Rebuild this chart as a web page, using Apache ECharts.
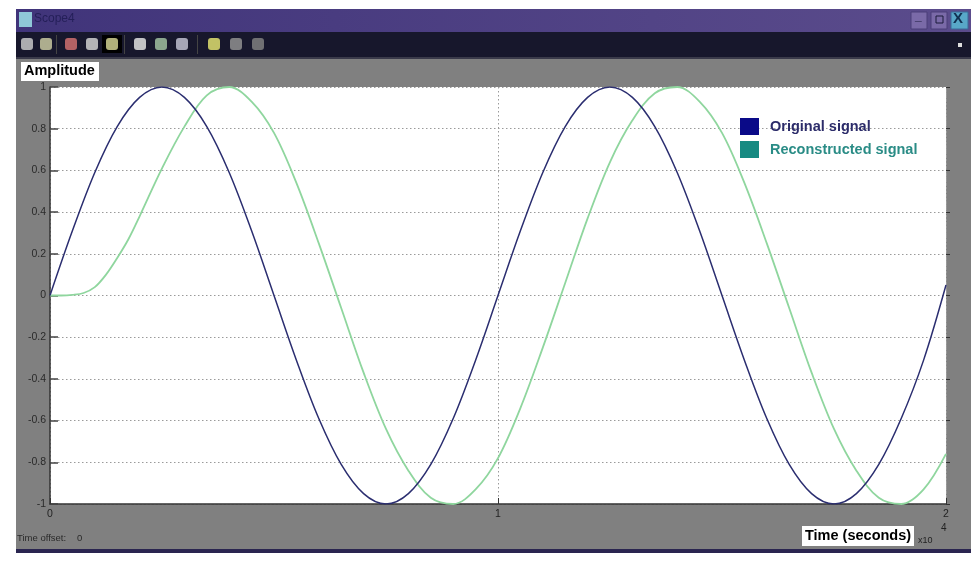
<!DOCTYPE html>
<html>
<head>
<meta charset="utf-8">
<script src="https://cdn.jsdelivr.net/npm/echarts@6/dist/echarts.min.js"></script>
<style>
html,body{margin:0;padding:0;background:#fff;}
#c{width:978px;height:565px;}
</style>
</head>
<body>
<div id="c"></div>
<script>
// Time in units of 1e-4 s
var times = [0,0.05,0.1,0.15,0.2,0.25,0.3,0.35,0.4,0.45,0.5,0.55,0.6,0.65,0.7,0.75,0.8,0.85,0.9,0.95,
             1.0,1.05,1.1,1.15,1.2,1.25,1.3,1.35,1.4,1.45,1.5,1.55,1.6,1.65,1.7,1.75,1.8,1.85,1.9,1.95,2.0];
var originalSignal = [0,0.31,0.59,0.81,0.95,1.0,0.95,0.81,0.59,0.31,0.0,-0.31,-0.59,-0.81,-0.95,-1.0,-0.95,-0.81,-0.59,-0.31,
                      0.0,0.31,0.59,0.81,0.95,1.0,0.95,0.81,0.59,0.31,0.0,-0.31,-0.59,-0.81,-0.95,-1.0,-0.95,-0.81,-0.59,-0.31,0.05];
var reconTimes = [0,0.025,0.05,0.075,0.1,0.125,0.15,0.175,0.2,0.25,0.3,0.35,0.4,0.45,0.5,0.55,0.6,0.65,0.7,0.75,0.8,0.85,0.9,0.95,
                  1.0,1.05,1.1,1.15,1.2,1.25,1.3,1.35,1.4,1.45,1.5,1.55,1.6,1.65,1.7,1.75,1.8,1.85,1.9,1.95,2.0];
var reconstructedSignal = [0,0,0.003,0.012,0.04,0.1,0.18,0.27,0.38,0.61,0.81,0.96,1.0,0.93,0.78,0.54,0.25,-0.06,-0.37,-0.64,-0.84,-0.97,-1.0,-0.93,
                           -0.78,-0.54,-0.25,0.06,0.37,0.64,0.84,0.97,1.0,0.93,0.78,0.54,0.25,-0.06,-0.37,-0.64,-0.84,-0.97,-1.0,-0.93,-0.76];
var xTicks = [0,1,2];
var yTicks = [-1,-0.8,-0.6,-0.4,-0.2,0,0.2,0.4,0.6,0.8,1];
var seriesNames = ['Original signal','Reconstructed signal'];

function pairs(xs, ys){ return xs.map(function(x,i){ return [x, ys[i]]; }); }

var chart = echarts.init(document.getElementById('c'));

var toolbarIcons = [
  {x:19, c:'#c8c8c8'},{x:38, c:'#c8c8a0'},
  {x:63, c:'#d07070'},{x:84, c:'#d0d0d0'},{x:104, c:'#d0d090', box:true},
  {x:132, c:'#e0e0e0'},{x:153, c:'#a0c0a0'},{x:174, c:'#c0c0d0'},
  {x:206, c:'#e0e070'},{x:228, c:'#909090'},{x:250, c:'#808080'}
];
var F = '"Liberation Sans", Arial';
var graphics = [
  {type:'rect', shape:{x:16,y:9,width:955,height:544}, style:{fill:'#808080'}, z:-10},
  {type:'rect', shape:{x:16,y:9,width:955,height:23},
   style:{fill:new echarts.graphic.LinearGradient(0,0,1,0,[{offset:0,color:'#40347a'},{offset:1,color:'#5b4c8c'}])}, z:-9},
  {type:'rect', shape:{x:19,y:12,width:13,height:15}, style:{fill:'#8fc8d8'}, z:-8},
  {type:'text', left:34, top:13, style:{text:'Scope4', fill:'#241f58', font:'12px ' + F}, z:-8},
  {type:'rect', shape:{x:911,y:12,width:16,height:17}, style:{fill:'#7a6aa8', stroke:'#4a3f78'}, z:-8},
  {type:'text', left:915, top:11, style:{text:'_', fill:'#1a1a3a', font:'bold 12px Arial'}, z:-7},
  {type:'rect', shape:{x:931,y:12,width:16,height:17}, style:{fill:'#7a6aa8', stroke:'#4a3f78'}, z:-8},
  {type:'rect', shape:{x:936,y:16,width:7,height:7}, style:{fill:'none', stroke:'#1a1a3a'}, z:-7},
  {type:'rect', shape:{x:951,y:12,width:17,height:17}, style:{fill:'#58a8c8', stroke:'#3a6a98'}, z:-8},
  {type:'text', left:953, top:11, style:{text:'X', fill:'#103050', font:'bold 15px Arial'}, z:-7},
  {type:'rect', shape:{x:16,y:32,width:955,height:26}, style:{fill:'#17172c'}, z:-9},
  {type:'rect', shape:{x:16,y:57,width:955,height:2}, style:{fill:'#3a3a4a'}, z:-9},
  {type:'rect', shape:{x:56,y:35,width:1,height:19}, style:{fill:'#444'}, z:-8},
  {type:'rect', shape:{x:124,y:35,width:1,height:19}, style:{fill:'#444'}, z:-8},
  {type:'rect', shape:{x:197,y:35,width:1,height:19}, style:{fill:'#444'}, z:-8},
  {type:'rect', shape:{x:958,y:43,width:4,height:4}, style:{fill:'#ddd'}, z:-8},
  {type:'rect', shape:{x:16,y:549,width:955,height:4}, style:{fill:'#2a2550'}, z:-9},
  {type:'rect', shape:{x:21,y:62,width:78,height:19}, style:{fill:'#ffffff'}, z:5},
  {type:'text', left:24, top:63, style:{text:'Amplitude', fill:'#000', font:'bold 14.5px ' + F}, z:6},
  {type:'rect', shape:{x:802,y:526,width:112,height:20}, style:{fill:'#ffffff'}, z:5},
  {type:'text', left:805, top:528, style:{text:'Time (seconds)', fill:'#000', font:'bold 14.5px ' + F}, z:6},
  {type:'text', left:918, top:536, style:{text:'x10', fill:'#222', font:'9px ' + F}, z:6},
  {type:'text', left:941, top:523, style:{text:'4', fill:'#222', font:'10px ' + F}, z:6},
  {type:'text', left:17, top:533, style:{text:'Time offset:', fill:'#2a2a2a', font:'9.5px ' + F}, z:6},
  {type:'text', left:77, top:533, style:{text:'0', fill:'#2a2a2a', font:'9.5px ' + F}, z:6}
];
toolbarIcons.forEach(function(ic){
  graphics.push({type:'rect', shape:{x:ic.x-(ic.box?2:0), y:36-(ic.box?1:0), width:16+(ic.box?4:0), height:16+(ic.box?2:0)},
    style:{fill: ic.box ? '#000' : 'none'}, z:-8});
  graphics.push({type:'rect', shape:{x:ic.x+2,y:38,width:12,height:12,r:3}, style:{fill:ic.c, opacity:0.85}, z:-7});
});

var option = {
  animation:false,
  backgroundColor:'#ffffff',
  graphic: graphics,
  grid:{left:50, top:87, right:32, bottom:61, show:true, backgroundColor:'#ffffff', borderWidth:0},
  legend:{
    orient:'vertical', left:735, top:113, itemWidth:19, itemHeight:17, itemGap:6,
    icon:'rect',
    data:[
      {name:seriesNames[0], itemStyle:{color:'#0a0a88'}, textStyle:{color:'#2c2c6a'}},
      {name:seriesNames[1], itemStyle:{color:'#178a82'}, textStyle:{color:'#2a8c86'}}
    ],
    textStyle:{fontFamily:F, fontWeight:'bold', fontSize:14.5, padding:[0,0,0,6]}
  },
  xAxis:{
    type:'value', min:xTicks[0], max:xTicks[xTicks.length-1], interval:1,
    axisLine:{show:true, onZero:false, lineStyle:{color:'#333', width:1.5}},
    axisTick:{show:true, inside:true, length:6, lineStyle:{color:'#333'}},
    axisLabel:{color:'#222', fontSize:10.5, fontFamily:F, margin:5,
      formatter:function(v){ return String(v); }},
    splitLine:{show:true, lineStyle:{color:'#9a9a9a', type:[1.5,2.5], width:1}}
  },
  yAxis:[{
    type:'value', min:yTicks[0], max:yTicks[yTicks.length-1], interval:0.2,
    axisLine:{show:true, onZero:false, lineStyle:{color:'#333', width:1.5}},
    axisTick:{show:true, inside:true, length:8, lineStyle:{color:'#444', width:1.5}},
    axisLabel:{color:'#2a2a2a', fontSize:10.5, fontFamily:F, margin:4,
      formatter:function(v){ var r=Math.round(v*10)/10; return String(r); }},
    splitLine:{show:true, lineStyle:{color:'#9a9a9a', type:[1.5,2.5], width:1}}
  },{
    type:'value', position:'right', min:-1, max:1, interval:0.2,
    axisLine:{show:true, onZero:false, lineStyle:{color:'#9a9a9a', type:[1.5,2], width:1}},
    axisTick:{show:true, inside:false, length:4, lineStyle:{color:'#333'}},
    axisLabel:{show:false}, splitLine:{show:false}
  }],
  series:[
    {name:seriesNames[0], type:'line', data:pairs(times, originalSignal), smooth:0.35, showSymbol:false,
     lineStyle:{color:'#2b2e70', width:1.5}, itemStyle:{color:'#0a0a88'}, z:3},
    {name:seriesNames[1], type:'line', data:pairs(reconTimes, reconstructedSignal), smooth:0.35, showSymbol:false,
     lineStyle:{color:'#8fd69e', width:1.8}, itemStyle:{color:'#178a82'}, z:2}
  ]
};
chart.setOption(option);
</script>
</body>
</html>
